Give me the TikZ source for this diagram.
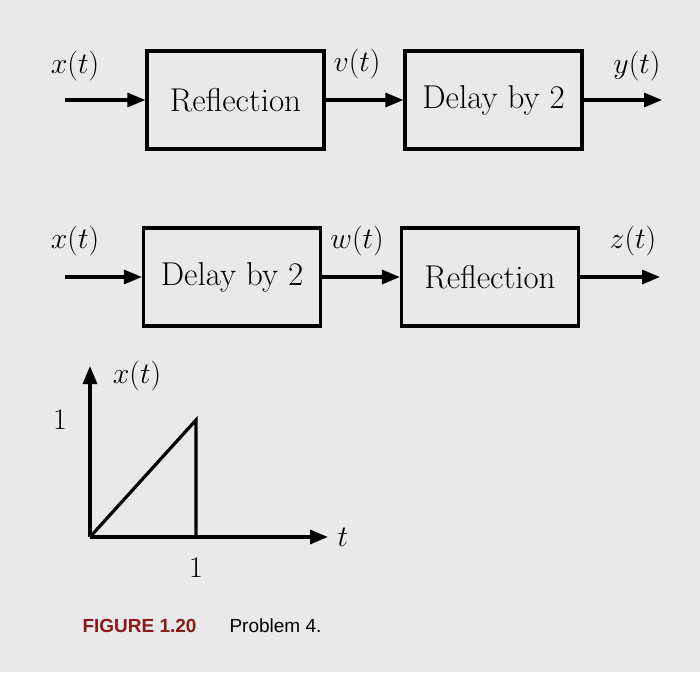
\documentclass[tikz,border=0pt]{standalone}
\usepackage{fontspec}
\newfontfamily\capfont{Liberation Sans}
\usetikzlibrary{arrows.meta}
\definecolor{bg}{HTML}{E9E9E9}
\definecolor{capred}{HTML}{8B1A1A}
\begin{document}
\begin{tikzpicture}[x=1pt,y=-1pt,
  blk/.style={draw,line width=3.2pt,minimum width=177pt,minimum height=98pt,inner sep=0pt,font=\fontsize{33}{38}\selectfont},
  sig/.style={line width=3.2pt,-{Triangle[length=18pt,width=14pt]}},
  lbl/.style={font=\fontsize{24}{28}\selectfont,scale=1.2},
  capf/.style={font=\capfont\fontsize{19}{22}\selectfont}]
\fill[bg] (0,0) rectangle (700,672);
\useasboundingbox (0,0) rectangle (700,672);
% row 1
\node[blk] (r1) at (235.5,100) {Reflection};
\node[blk] (d1) at (493.5,100) {Delay by 2};
\coordinate (in1) at (65,100);
\coordinate (out1) at (662,100);
\draw[sig] (in1) -- (r1.west);
\draw[sig] (r1.east) -- (d1.west);
\draw[sig] (d1.east) -- (out1);
\node[lbl] (lx1) at (75,66) {$x(t)$};
\node[lbl] (lv) at (357,64) {$v(t)$};
\node[lbl] (ly) at (637,66) {$y(t)$};
% row 2
\node[blk] (d2) at (232,277) {Delay by 2};
\node[blk] (r2) at (490,277) {Reflection};
\coordinate (in2) at (65,277);
\coordinate (out2) at (660,277);
\draw[sig] (in2) -- (d2.west);
\draw[sig] (d2.east) -- (r2.west);
\draw[sig] (r2.east) -- (out2);
\node[lbl] (lx2) at (75,241) {$x(t)$};
\node[lbl] (lw) at (357,241) {$w(t)$};
\node[lbl] (lz) at (633,241) {$z(t)$};
% graph
\coordinate (o) at (90,537);
\coordinate (ytop) at (90,366);
\coordinate (xend) at (328,537);
\coordinate (pk) at (196,420);
\coordinate (pb) at (196,537);
\draw[sig] (o) -- (ytop);
\draw[sig] (o) -- (xend);
\draw[line width=3.2pt] (o) -- (pk) -- (pb);
\node[lbl] (gy) at (137,376) {$x(t)$};
\node[lbl] (g1y) at (60,420) {$1$};
\node[lbl] (g1x) at (196,568) {$1$};
\node[lbl] (gt) at (343,537) {$t$};
% caption
\node[capf,anchor=west,text=capred] (cap1) at (79,626) {\textbf{FIGURE 1.20}};
\node[capf,anchor=west] (cap2) at (226,626) {Problem 4.};
\end{tikzpicture}
\end{document}
